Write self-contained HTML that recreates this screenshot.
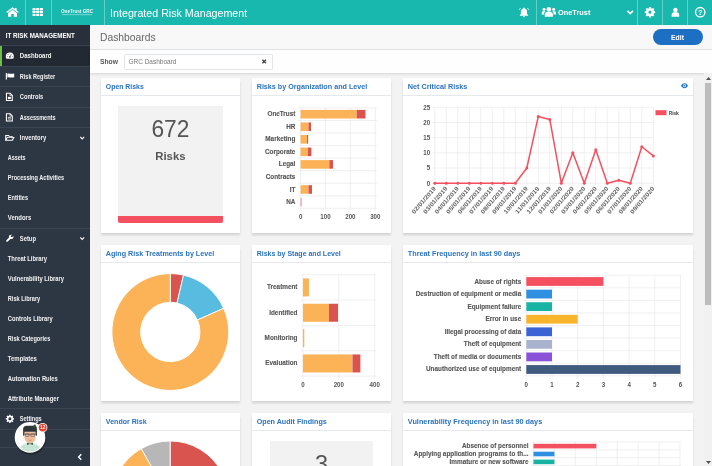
<!DOCTYPE html>
<html lang="en"><head><meta charset="utf-8"><title>Integrated Risk Management</title>
<style>
html,body{margin:0;padding:0;}
body{width:712px;height:466px;overflow:hidden;position:relative;background:#f3f3f3;font-family:"Liberation Sans", sans-serif;color:#444;}
.abs{position:absolute;}
#top{left:0;top:0;width:712px;height:24.6px;background:#19b8af;}
.vsep{position:absolute;top:0;width:0.9px;height:24.6px;background:rgba(255,255,255,0.32);}
#side{left:0;top:24.6px;width:89.6px;height:442px;background:#2d3643;}
.hl{position:absolute;left:0;width:89.6px;height:0.7px;background:#3a4351;}
#hdr{left:89.6px;top:24.6px;width:622.4px;height:24.10px;background:#f8f8f8;border-bottom:0.7px solid #dfe2e5;}
.card{position:absolute;background:#fff;box-shadow:0 3.8px 2.2px -0.4px rgba(0,0,0,0.12), 0 0 1px rgba(0,0,0,0.05);}
#showrow{left:89.6px;top:49.5px;width:622.4px;height:23.3px;background:#fefefe;box-shadow:0 1px 2.5px rgba(0,0,0,0.13);}
.card i{position:absolute;left:0;right:0;top:17.0px;height:0.7px;background:#e6e9ec;}
svg text{font-family:"Liberation Sans", sans-serif;}
</style></head><body>

<div id="top" class="abs">
<div class="vsep" style="left:25.4px"></div>
<div class="vsep" style="left:50.8px"></div>
<div class="vsep" style="left:104.4px"></div>
<div class="vsep" style="left:536.1px"></div>
<div class="vsep" style="left:637.4px"></div>
<div class="vsep" style="left:662.4px"></div>
<div class="vsep" style="left:687.4px"></div>
</div>
<div id="side" class="abs">
<div class="abs" style="left:0;top:0;width:89.6px;height:21px;background:#29303c"></div>
<div class="abs" style="left:0;top:20.60px;width:89.6px;height:21.00px;background:#222933"></div>
<div class="abs" style="left:0;top:21.10px;width:2px;height:20.50px;background:#6cc04a"></div>
<div class="hl" style="top:20.60px"></div>
<div class="hl" style="top:41.10px"></div>
<div class="hl" style="top:61.60px"></div>
<div class="hl" style="top:82.10px"></div>
<div class="hl" style="top:102.60px"></div>
<div class="hl" style="top:203.10px"></div>
<div class="hl" style="top:383.60px"></div>
<div class="hl" style="top:404.10px"></div>
<div class="hl" style="top:422.70px"></div>
</div>
<div id="showrow" class="abs"></div>
<div id="hdr" class="abs"></div>
<div class="abs" style="left:652.5px;top:29.3px;width:50px;height:16px;border-radius:8px;background:#1d6fc4"></div>
<div class="abs" style="left:123.6px;top:53.8px;width:149.4px;height:15.8px;background:#fff;border:0.7px solid #e2e4e6;border-radius:1.5px;box-sizing:border-box"></div>
<div class="card" style="left:100.6px;top:77.7px;width:139.3px;height:155.8px"><i></i></div>
<div class="card" style="left:251.5px;top:77.7px;width:139.8px;height:155.8px"><i></i></div>
<div class="card" style="left:402.6px;top:77.7px;width:290.6px;height:155.8px"><i></i></div>
<div class="card" style="left:100.6px;top:245.1px;width:139.3px;height:155.8px"><i></i></div>
<div class="card" style="left:251.5px;top:245.1px;width:139.8px;height:155.8px"><i></i></div>
<div class="card" style="left:402.6px;top:245.1px;width:290.6px;height:155.8px"><i></i></div>
<div class="card" style="left:100.6px;top:412.5px;width:139.3px;height:155.8px"><i></i></div>
<div class="card" style="left:251.5px;top:412.5px;width:139.8px;height:155.8px"><i></i></div>
<div class="card" style="left:402.6px;top:412.5px;width:290.6px;height:155.8px"><i></i></div>
<div class="abs" style="left:118.2px;top:105.7px;width:104.5px;height:117.5px;background:#f2f2f2;border-radius:0 0 2px 2px;overflow:hidden"><div style="position:absolute;left:0;right:0;bottom:0;height:7.4px;background:#f4505f"></div></div>
<div class="abs" style="left:269.8px;top:440.5px;width:103.6px;height:40px;background:#f2f2f2"></div>
<svg class="abs" style="left:0;top:0" width="712" height="466" viewBox="0 0 712 466">
<g transform="translate(5.900,6.600) scale(0.510,0.430)"><path d="M13 1.500 L0.500 12.300 L2.400 14.500 L13 5.400 L23.600 14.500 L25.500 12.300 L21 8.400 V3 H17.800 V5.700 Z" fill="#fff"/><path d="M13 7.400 L4.200 15 V23.500 H10.600 V17 H15.400 V23.500 H21.800 V15 Z" fill="#fff"/></g>
<rect x="32.50" y="8.00" width="3.100" height="2.200" rx="0.300" fill="#fff"/>
<rect x="36.20" y="8.00" width="3.100" height="2.200" rx="0.300" fill="#fff"/>
<rect x="39.90" y="8.00" width="3.100" height="2.200" rx="0.300" fill="#fff"/>
<rect x="32.50" y="10.85" width="3.100" height="2.200" rx="0.300" fill="#fff"/>
<rect x="36.20" y="10.85" width="3.100" height="2.200" rx="0.300" fill="#fff"/>
<rect x="39.90" y="10.85" width="3.100" height="2.200" rx="0.300" fill="#fff"/>
<rect x="32.50" y="13.70" width="3.100" height="2.200" rx="0.300" fill="#fff"/>
<rect x="36.20" y="13.70" width="3.100" height="2.200" rx="0.300" fill="#fff"/>
<rect x="39.90" y="13.70" width="3.100" height="2.200" rx="0.300" fill="#fff"/>
<rect x="62" y="14.400" width="30" height="0.700" fill="rgba(255,255,255,0.6)"/>
<g transform="translate(518.700,6.900) scale(0.440)"><path d="M12 1.500c-1 0-1.700.7-1.700 1.700v.6C7 4.700 5 7.500 5 11v5l-2.500 3v1h19v-1L19 16v-5c0-3.500-2-6.300-5.300-7.200v-.6c0-1-.7-1.700-1.700-1.700zM9.500 21a2.500 2.500 0 0 0 5 0z" fill="#fff"/><path d="M4 2.500 L1.500 6.500 M20 2.500 L22.500 6.500" stroke="#fff" stroke-width="1.800"/></g>
<g transform="translate(541.700,6.300) scale(0.510,0.480)"><circle cx="14" cy="6" r="4.600" fill="#fff"/><path d="M6 22v-5c0-3.500 3-6 8-6s8 2.500 8 6v5z" fill="#fff"/><circle cx="4.500" cy="6.500" r="3" fill="#fff"/><path d="M0 17v-3.500c0-2 1.600-3.500 4.500-3.500 1 0 1.800.2 2.500.5-1.500 1.400-2.300 3-2.300 5V17z" fill="#fff"/><circle cx="23.500" cy="6.500" r="3" fill="#fff"/><path d="M28 17v-3.500c0-2-1.600-3.500-4.500-3.500-1 0-1.800.2-2.500.5 1.500 1.400 2.300 3 2.300 5V17z" fill="#fff"/></g>
<path d="M627.400 10.900 L630.200 13.500 L633 10.900" fill="none" stroke="#fff" stroke-width="1.700"/>
<path d="M655.22 11.29 L655.22 13.11 L653.99 13.16 L653.50 14.34 L654.34 15.25 L653.05 16.54 L652.14 15.70 L650.96 16.19 L650.91 17.42 L649.09 17.42 L649.04 16.19 L647.86 15.70 L646.95 16.54 L645.66 15.25 L646.50 14.34 L646.01 13.16 L644.78 13.11 L644.78 11.29 L646.01 11.24 L646.50 10.06 L645.66 9.15 L646.95 7.86 L647.86 8.70 L649.04 8.21 L649.09 6.98 L650.91 6.98 L650.96 8.21 L652.14 8.70 L653.05 7.86 L654.34 9.15 L653.50 10.06 L653.99 11.24 Z M651.59 12.20 A1.59 1.59 0 1 0 648.41 12.20 A1.59 1.59 0 1 0 651.59 12.20 Z" fill="#fff" fill-rule="evenodd"/>
<g transform="translate(671.200,7.500) scale(0.420)"><circle cx="10" cy="6" r="5.300" fill="#fff"/><path d="M1 22v-4.500c0-4 3.500-6.500 9-6.500s9 2.500 9 6.500V22z" fill="#fff"/></g>
<circle cx="700.200" cy="12.200" r="4.700" fill="none" stroke="#fff" stroke-width="1.400"/>
<g transform="translate(5.500,51.55) scale(0.540,0.520)"><path d="M8 2a7.500 7.500 0 0 0-7.500 7.500c0 1.600.5 3 1.300 4.300h12.400c.8-1.300 1.300-2.700 1.300-4.300A7.500 7.500 0 0 0 8 2z" fill="#fff"/><circle cx="8" cy="10.500" r="1.500" fill="#222933"/><path d="M8 10.500 L10.800 5.500" stroke="#222933" stroke-width="1.200"/><circle cx="3.300" cy="9.800" r="0.900" fill="#222933"/><circle cx="12.700" cy="9.800" r="0.900" fill="#222933"/><circle cx="4.800" cy="5.800" r="0.900" fill="#222933"/></g>
<g transform="translate(5.500,72.35) scale(0.580,0.480)"><rect x="0.500" y="1.500" width="2" height="13.500" fill="#fff"/><path d="M3.200 2.800c3.500-1.600 6 1.600 11.800-.3v7.800c-5.800 1.900-8.300-1.300-11.800.3z" fill="#fff"/></g>
<g transform="translate(5.100,92.45) scale(0.540,0.550)"><path d="M2.500 1.400h6.800l4 4V14.600h-10.800z" fill="none" stroke="#fff" stroke-width="2"/><path d="M9 1.400v4.300h4.300" fill="none" stroke="#fff" stroke-width="1.200"/><rect x="5.200" y="8" width="5.400" height="4" fill="#fff"/></g>
<g transform="translate(5.100,112.95) scale(0.540,0.550)"><path d="M2.500 1.400h6.800l4 4V14.600h-10.800z" fill="none" stroke="#fff" stroke-width="2"/><path d="M9 1.400v4.300h4.300" fill="none" stroke="#fff" stroke-width="1.200"/><rect x="5.200" y="7.200" width="5.400" height="1.500" fill="#fff"/><rect x="5.200" y="10.200" width="5.400" height="1.500" fill="#fff"/></g>
<g transform="translate(5.000,134.15) scale(0.570,0.460)"><path d="M1.300 13V2.800h4.700l1.500 2h5V7" fill="none" stroke="#fff" stroke-width="1.900"/><path d="M1.300 13.200l2.700-6.200h11.500l-2.700 6.200z" fill="none" stroke="#fff" stroke-width="1.900"/></g>
<path d="M80.200 136.85 L82.200 138.85 L84.200 136.85" fill="none" stroke="#fff" stroke-width="1.100"/>
<g transform="translate(5.700,234.25) scale(0.520,0.500)"><path d="M14.800 3.600l-2.500 2.500-2.100-.4-.4-2.100 2.500-2.500c-1.800-.6-3.700-.2-4.900 1-1.200 1.200-1.500 3-.9 4.600L1.300 11.900c-.7.700-.7 1.900 0 2.600.7.700 1.900.7 2.600 0l5.200-5.200c1.600.6 3.400.3 4.600-.9 1.300-1.200 1.700-3.100 1.100-4.800z" fill="#fff"/></g>
<path d="M80.200 237.35 L82.200 239.35 L84.200 237.35" fill="none" stroke="#fff" stroke-width="1.100"/>
<path d="M14.04 418.13 L14.04 419.57 L13.01 419.60 L12.63 420.52 L13.34 421.27 L12.32 422.29 L11.57 421.58 L10.65 421.96 L10.62 422.99 L9.18 422.99 L9.15 421.96 L8.23 421.58 L7.48 422.29 L6.46 421.27 L7.17 420.52 L6.79 419.60 L5.76 419.57 L5.76 418.13 L6.79 418.10 L7.17 417.18 L6.46 416.43 L7.48 415.41 L8.23 416.12 L9.15 415.74 L9.18 414.71 L10.62 414.71 L10.65 415.74 L11.57 416.12 L12.32 415.41 L13.34 416.43 L12.63 417.18 L13.01 418.10 Z M11.41 418.85 A1.51 1.51 0 1 0 8.39 418.85 A1.51 1.51 0 1 0 11.41 418.85 Z" fill="#fff" fill-rule="evenodd"/>
<path d="M81.300 454.200 L78.600 457 L81.300 459.800" fill="none" stroke="#fff" stroke-width="1.400"/>
<path d="M262.400 59.700 L266 63.300 M266 59.700 L262.400 63.300" stroke="#444" stroke-width="1.300"/>
<g transform="translate(680.800,83) scale(0.460)"><path d="M0.500 6c2-3.500 4.500-5.300 7.500-5.300s5.500 1.800 7.500 5.300c-2 3.500-4.500 5.300-7.500 5.300S2.500 9.500.5 6z" fill="#1d6fc4"/><circle cx="8" cy="6" r="3.200" fill="#fff"/><circle cx="8" cy="6" r="1.800" fill="#1d6fc4"/></g>
<line x1="300.60" y1="107.90" x2="300.60" y2="210.80" stroke="#e9e9e9" stroke-width="0.700"/>
<line x1="325.50" y1="107.90" x2="325.50" y2="210.80" stroke="#e9e9e9" stroke-width="0.700"/>
<line x1="350.40" y1="107.90" x2="350.40" y2="210.80" stroke="#e9e9e9" stroke-width="0.700"/>
<line x1="375.30" y1="107.90" x2="375.30" y2="210.80" stroke="#e9e9e9" stroke-width="0.700"/>
<line x1="298.10" y1="107.92" x2="377.00" y2="107.92" stroke="#e9e9e9" stroke-width="0.700"/>
<line x1="298.10" y1="120.47" x2="377.00" y2="120.47" stroke="#e9e9e9" stroke-width="0.700"/>
<line x1="298.10" y1="133.03" x2="377.00" y2="133.03" stroke="#e9e9e9" stroke-width="0.700"/>
<line x1="298.10" y1="145.57" x2="377.00" y2="145.57" stroke="#e9e9e9" stroke-width="0.700"/>
<line x1="298.10" y1="158.12" x2="377.00" y2="158.12" stroke="#e9e9e9" stroke-width="0.700"/>
<line x1="298.10" y1="170.68" x2="377.00" y2="170.68" stroke="#e9e9e9" stroke-width="0.700"/>
<line x1="298.10" y1="183.23" x2="377.00" y2="183.23" stroke="#e9e9e9" stroke-width="0.700"/>
<line x1="298.10" y1="195.78" x2="377.00" y2="195.78" stroke="#e9e9e9" stroke-width="0.700"/>
<line x1="298.10" y1="208.32" x2="377.00" y2="208.32" stroke="#e9e9e9" stroke-width="0.700"/>
<rect x="300.60" y="109.90" width="56.10" height="8.60" fill="#fcb256"/>
<rect x="356.70" y="109.90" width="8.80" height="8.60" fill="#d9544f"/>
<rect x="300.60" y="122.45" width="7.90" height="8.60" fill="#fcb256"/>
<rect x="308.50" y="122.45" width="2.50" height="8.60" fill="#d9544f"/>
<rect x="300.60" y="135.00" width="6.40" height="8.60" fill="#fcb256"/>
<rect x="307.00" y="135.00" width="1.10" height="8.60" fill="#d9544f"/>
<rect x="300.60" y="147.55" width="7.40" height="8.60" fill="#fcb256"/>
<rect x="308.00" y="147.55" width="3.40" height="8.60" fill="#d9544f"/>
<rect x="300.60" y="160.10" width="28.70" height="8.60" fill="#fcb256"/>
<rect x="329.30" y="160.10" width="3.70" height="8.60" fill="#d9544f"/>
<rect x="300.60" y="185.20" width="7.90" height="8.60" fill="#fcb256"/>
<rect x="308.50" y="185.20" width="3.50" height="8.60" fill="#d9544f"/>
<rect x="300.60" y="197.75" width="1.00" height="8.60" fill="#e98a86"/>
<line x1="302.90" y1="274.70" x2="302.90" y2="378.60" stroke="#e9e9e9" stroke-width="0.700"/>
<line x1="338.80" y1="274.70" x2="338.80" y2="378.60" stroke="#e9e9e9" stroke-width="0.700"/>
<line x1="374.70" y1="274.70" x2="374.70" y2="378.60" stroke="#e9e9e9" stroke-width="0.700"/>
<line x1="300.40" y1="274.72" x2="376.00" y2="274.72" stroke="#e9e9e9" stroke-width="0.700"/>
<line x1="300.40" y1="300.07" x2="376.00" y2="300.07" stroke="#e9e9e9" stroke-width="0.700"/>
<line x1="300.40" y1="325.42" x2="376.00" y2="325.42" stroke="#e9e9e9" stroke-width="0.700"/>
<line x1="300.40" y1="350.77" x2="376.00" y2="350.77" stroke="#e9e9e9" stroke-width="0.700"/>
<line x1="300.40" y1="376.12" x2="376.00" y2="376.12" stroke="#e9e9e9" stroke-width="0.700"/>
<rect x="302.90" y="278.40" width="6.10" height="18.00" fill="#fcb256"/>
<rect x="302.90" y="303.75" width="26.10" height="18.00" fill="#fcb256"/>
<rect x="329.00" y="303.75" width="9.00" height="18.00" fill="#d9544f"/>
<rect x="302.90" y="329.10" width="1.40" height="18.00" fill="#fcb256"/>
<rect x="302.90" y="354.45" width="49.60" height="18.00" fill="#fcb256"/>
<rect x="352.50" y="354.45" width="7.90" height="18.00" fill="#d9544f"/>
<line x1="526.30" y1="275.20" x2="526.30" y2="378.30" stroke="#e9e9e9" stroke-width="0.700"/>
<line x1="552.00" y1="275.20" x2="552.00" y2="378.30" stroke="#e9e9e9" stroke-width="0.700"/>
<line x1="577.70" y1="275.20" x2="577.70" y2="378.30" stroke="#e9e9e9" stroke-width="0.700"/>
<line x1="603.40" y1="275.20" x2="603.40" y2="378.30" stroke="#e9e9e9" stroke-width="0.700"/>
<line x1="629.10" y1="275.20" x2="629.10" y2="378.30" stroke="#e9e9e9" stroke-width="0.700"/>
<line x1="654.80" y1="275.20" x2="654.80" y2="378.30" stroke="#e9e9e9" stroke-width="0.700"/>
<line x1="680.50" y1="275.20" x2="680.50" y2="378.30" stroke="#e9e9e9" stroke-width="0.700"/>
<line x1="523.80" y1="275.21" x2="681.00" y2="275.21" stroke="#e9e9e9" stroke-width="0.700"/>
<line x1="523.80" y1="287.78" x2="681.00" y2="287.78" stroke="#e9e9e9" stroke-width="0.700"/>
<line x1="523.80" y1="300.35" x2="681.00" y2="300.35" stroke="#e9e9e9" stroke-width="0.700"/>
<line x1="523.80" y1="312.92" x2="681.00" y2="312.92" stroke="#e9e9e9" stroke-width="0.700"/>
<line x1="523.80" y1="325.50" x2="681.00" y2="325.50" stroke="#e9e9e9" stroke-width="0.700"/>
<line x1="523.80" y1="338.06" x2="681.00" y2="338.06" stroke="#e9e9e9" stroke-width="0.700"/>
<line x1="523.80" y1="350.63" x2="681.00" y2="350.63" stroke="#e9e9e9" stroke-width="0.700"/>
<line x1="523.80" y1="363.20" x2="681.00" y2="363.20" stroke="#e9e9e9" stroke-width="0.700"/>
<line x1="523.80" y1="375.77" x2="681.00" y2="375.77" stroke="#e9e9e9" stroke-width="0.700"/>
<rect x="526.30" y="277.10" width="77.10" height="8.80" fill="#f4505f"/>
<rect x="526.30" y="289.67" width="25.70" height="8.80" fill="#2f8fe0"/>
<rect x="526.30" y="302.24" width="25.70" height="8.80" fill="#17b3a3"/>
<rect x="526.30" y="314.81" width="51.40" height="8.80" fill="#f8b42a"/>
<rect x="526.30" y="327.38" width="25.70" height="8.80" fill="#3b63d6"/>
<rect x="526.30" y="339.95" width="25.70" height="8.80" fill="#a9b2cf"/>
<rect x="526.30" y="352.52" width="25.70" height="8.80" fill="#8a52d8"/>
<rect x="526.30" y="365.09" width="154.20" height="8.80" fill="#3f5b80"/>
<line x1="533.50" y1="442" x2="533.50" y2="466" stroke="#e9e9e9" stroke-width="0.700"/>
<line x1="554.43" y1="442" x2="554.43" y2="466" stroke="#e9e9e9" stroke-width="0.700"/>
<line x1="575.36" y1="442" x2="575.36" y2="466" stroke="#e9e9e9" stroke-width="0.700"/>
<line x1="596.29" y1="442" x2="596.29" y2="466" stroke="#e9e9e9" stroke-width="0.700"/>
<line x1="617.22" y1="442" x2="617.22" y2="466" stroke="#e9e9e9" stroke-width="0.700"/>
<line x1="638.15" y1="442" x2="638.15" y2="466" stroke="#e9e9e9" stroke-width="0.700"/>
<line x1="659.08" y1="442" x2="659.08" y2="466" stroke="#e9e9e9" stroke-width="0.700"/>
<line x1="680.01" y1="442" x2="680.01" y2="466" stroke="#e9e9e9" stroke-width="0.700"/>
<line x1="531" y1="442.00" x2="681" y2="442.00" stroke="#e9e9e9" stroke-width="0.700"/>
<line x1="531" y1="449.85" x2="681" y2="449.85" stroke="#e9e9e9" stroke-width="0.700"/>
<line x1="531" y1="457.70" x2="681" y2="457.70" stroke="#e9e9e9" stroke-width="0.700"/>
<line x1="531" y1="465.55" x2="681" y2="465.55" stroke="#e9e9e9" stroke-width="0.700"/>
<rect x="533.500" y="443.80" width="62.79" height="4.600" fill="#f4505f"/>
<rect x="533.500" y="451.70" width="20.93" height="4.600" fill="#2f8fe0"/>
<rect x="533.500" y="459.60" width="20.93" height="4.600" fill="#17b3a3"/>
<line x1="432.30" y1="183.20" x2="653.30" y2="183.20" stroke="#e9e9e9" stroke-width="0.700"/>
<line x1="432.30" y1="168.02" x2="653.30" y2="168.02" stroke="#e9e9e9" stroke-width="0.700"/>
<line x1="432.30" y1="152.84" x2="653.30" y2="152.84" stroke="#e9e9e9" stroke-width="0.700"/>
<line x1="432.30" y1="137.66" x2="653.30" y2="137.66" stroke="#e9e9e9" stroke-width="0.700"/>
<line x1="432.30" y1="122.48" x2="653.30" y2="122.48" stroke="#e9e9e9" stroke-width="0.700"/>
<line x1="432.30" y1="107.30" x2="653.30" y2="107.30" stroke="#e9e9e9" stroke-width="0.700"/>
<line x1="434.80" y1="107.30" x2="434.80" y2="185.70" stroke="#e9e9e9" stroke-width="0.700"/>
<line x1="446.30" y1="107.30" x2="446.30" y2="185.70" stroke="#e9e9e9" stroke-width="0.700"/>
<line x1="457.80" y1="107.30" x2="457.80" y2="185.70" stroke="#e9e9e9" stroke-width="0.700"/>
<line x1="469.30" y1="107.30" x2="469.30" y2="185.70" stroke="#e9e9e9" stroke-width="0.700"/>
<line x1="480.80" y1="107.30" x2="480.80" y2="185.70" stroke="#e9e9e9" stroke-width="0.700"/>
<line x1="492.30" y1="107.30" x2="492.30" y2="185.70" stroke="#e9e9e9" stroke-width="0.700"/>
<line x1="503.80" y1="107.30" x2="503.80" y2="185.70" stroke="#e9e9e9" stroke-width="0.700"/>
<line x1="515.30" y1="107.30" x2="515.30" y2="185.70" stroke="#e9e9e9" stroke-width="0.700"/>
<line x1="526.80" y1="107.30" x2="526.80" y2="185.70" stroke="#e9e9e9" stroke-width="0.700"/>
<line x1="538.30" y1="107.30" x2="538.30" y2="185.70" stroke="#e9e9e9" stroke-width="0.700"/>
<line x1="549.80" y1="107.30" x2="549.80" y2="185.70" stroke="#e9e9e9" stroke-width="0.700"/>
<line x1="561.30" y1="107.30" x2="561.30" y2="185.70" stroke="#e9e9e9" stroke-width="0.700"/>
<line x1="572.80" y1="107.30" x2="572.80" y2="185.70" stroke="#e9e9e9" stroke-width="0.700"/>
<line x1="584.30" y1="107.30" x2="584.30" y2="185.70" stroke="#e9e9e9" stroke-width="0.700"/>
<line x1="595.80" y1="107.30" x2="595.80" y2="185.70" stroke="#e9e9e9" stroke-width="0.700"/>
<line x1="607.30" y1="107.30" x2="607.30" y2="185.70" stroke="#e9e9e9" stroke-width="0.700"/>
<line x1="618.80" y1="107.30" x2="618.80" y2="185.70" stroke="#e9e9e9" stroke-width="0.700"/>
<line x1="630.30" y1="107.30" x2="630.30" y2="185.70" stroke="#e9e9e9" stroke-width="0.700"/>
<line x1="641.80" y1="107.30" x2="641.80" y2="185.70" stroke="#e9e9e9" stroke-width="0.700"/>
<line x1="653.30" y1="107.30" x2="653.30" y2="185.70" stroke="#e9e9e9" stroke-width="0.700"/>
<polyline points="434.80,183.20 446.30,183.20 457.80,183.20 469.30,183.20 480.80,183.20 492.30,183.20 503.80,183.20 515.30,183.20 526.80,168.02 538.30,116.41 549.80,119.44 561.30,183.20 572.80,152.84 584.30,183.20 595.80,149.80 607.30,183.20 618.80,180.16 630.30,183.20 641.80,146.77 653.30,155.88" fill="none" stroke="#f4505f" stroke-width="1.500" stroke-linejoin="round"/>
<circle cx="434.80" cy="183.20" r="1.500" fill="#f4505f"/>
<circle cx="446.30" cy="183.20" r="1.500" fill="#f4505f"/>
<circle cx="457.80" cy="183.20" r="1.500" fill="#f4505f"/>
<circle cx="469.30" cy="183.20" r="1.500" fill="#f4505f"/>
<circle cx="480.80" cy="183.20" r="1.500" fill="#f4505f"/>
<circle cx="492.30" cy="183.20" r="1.500" fill="#f4505f"/>
<circle cx="503.80" cy="183.20" r="1.500" fill="#f4505f"/>
<circle cx="515.30" cy="183.20" r="1.500" fill="#f4505f"/>
<circle cx="526.80" cy="168.02" r="1.500" fill="#f4505f"/>
<circle cx="538.30" cy="116.41" r="1.500" fill="#f4505f"/>
<circle cx="549.80" cy="119.44" r="1.500" fill="#f4505f"/>
<circle cx="561.30" cy="183.20" r="1.500" fill="#f4505f"/>
<circle cx="572.80" cy="152.84" r="1.500" fill="#f4505f"/>
<circle cx="584.30" cy="183.20" r="1.500" fill="#f4505f"/>
<circle cx="595.80" cy="149.80" r="1.500" fill="#f4505f"/>
<circle cx="607.30" cy="183.20" r="1.500" fill="#f4505f"/>
<circle cx="618.80" cy="180.16" r="1.500" fill="#f4505f"/>
<circle cx="630.30" cy="183.20" r="1.500" fill="#f4505f"/>
<circle cx="641.80" cy="146.77" r="1.500" fill="#f4505f"/>
<circle cx="653.30" cy="155.88" r="1.500" fill="#f4505f"/>
<rect x="655.500" y="110.200" width="11" height="5" fill="#f4505f"/>
<path d="M170.30 273.60 A58.4 58.4 0 0 1 183.54 275.12 L177.03 303.07 A29.7 29.7 0 0 0 170.30 302.30 Z" fill="#d9544f" stroke="#fff" stroke-width="0.900"/>
<path d="M183.54 275.12 A58.4 58.4 0 0 1 223.69 308.34 L197.45 319.97 A29.7 29.7 0 0 0 177.03 303.07 Z" fill="#58bbe0" stroke="#fff" stroke-width="0.900"/>
<path d="M223.69 308.34 A58.4 58.4 0 1 1 170.30 273.60 L170.30 302.30 A29.7 29.7 0 1 0 197.45 319.97 Z" fill="#fcb256" stroke="#fff" stroke-width="0.900"/>
<path d="M170.1 499.3 L170.10 441.00 A58.3 58.3 0 0 1 217.86 532.74 Z" fill="#d9544f" stroke="#fff" stroke-width="0.900"/>
<path d="M170.1 499.3 L141.13 448.71 A58.3 58.3 0 0 1 170.10 441.00 Z" fill="#b7b7b7" stroke="#fff" stroke-width="0.900"/>
<path d="M170.1 499.3 L150.16 554.08 A58.3 58.3 0 0 1 141.13 448.71 Z" fill="#fcb256" stroke="#fff" stroke-width="0.900"/>
<g transform="translate(30,437.400)">
<circle cx="0.300" cy="1.200" r="16" fill="rgba(0,0,0,0.28)"/>
<circle cx="0" cy="0" r="15.300" fill="#fff"/>
<clipPath id="avc"><circle cx="0" cy="0" r="14.200"/></clipPath>
<g clip-path="url(#avc)">
<path d="M-10.500 15 C-10.500 8.500 -6 6 -2.500 5.400 L2.500 5.400 C6 6 10.500 8.500 10.500 15 Z" fill="#cfe9dc"/>
<path d="M-6 8 V15 M-2 6 V15 M2 6 V15 M6 8 V15 M-10 9.500 H10 M-10 12.500 H10" stroke="#b4d8c6" stroke-width="0.500" fill="none"/>
<rect x="-2.200" y="2.500" width="4.400" height="4" fill="#dfa583"/>
<path d="M-3 5 L0 6.600 L3 5 L3 7.600 L0 6.600 L-3 7.600 Z" fill="#2f6b4a"/>
<path d="M-5.600 -6 H5.600 V0 C5.600 3.500 3 5.600 0 5.600 C-3 5.600 -5.600 3.500 -5.600 0 Z" fill="#eebd9b"/>
<path d="M-6.900 -1.400 V-8.500 C-6.900 -10.800 -5 -11.600 -3 -11.600 H4.500 C6.300 -11.600 6.900 -10.500 6.900 -8.500 V-1.400 L5.500 -2.500 V-5.600 H-5.500 V-2.500 Z" fill="#2e3534"/>
<path d="M3.400 -11.600 C4 -12.800 5 -13 5.800 -12.600 C5.600 -11.500 5.600 -10.500 5.800 -9 L3.400 -9 Z" fill="#27503c"/>
<path d="M-5 -3.200 H5" stroke="#3a3a3a" stroke-width="0.600"/>
<rect x="-4.700" y="-3.600" width="3.800" height="2.600" rx="0.600" fill="none" stroke="#444" stroke-width="0.500"/>
<rect x="0.900" y="-3.600" width="3.800" height="2.600" rx="0.600" fill="none" stroke="#444" stroke-width="0.500"/>
<path d="M-1.500 2.600 C-0.500 3.200 0.500 3.200 1.500 2.600" fill="none" stroke="#c26a5a" stroke-width="0.600"/>
</g>
<circle cx="12.700" cy="-9.800" r="4.700" fill="#fff"/>
<circle cx="12.700" cy="-9.800" r="3.900" fill="#e8432e"/>
</g>
<text x="77.00" y="13.00" font-size="5.7" font-weight="bold" fill="rgba(255,255,255,0.92)" text-anchor="middle" textLength="32.00" lengthAdjust="spacingAndGlyphs">OneTrust GRC</text>
<text x="110.10" y="16.90" font-size="11" fill="#fff" textLength="137.10" lengthAdjust="spacingAndGlyphs">Integrated Risk Management</text>
<text x="558.00" y="15.30" font-size="7.9" font-weight="bold" fill="#fff" textLength="32.40" lengthAdjust="spacingAndGlyphs">OneTrust</text>
<text x="700.20" y="14.80" font-size="7.4" font-weight="bold" fill="#fff" text-anchor="middle">?</text>
<text x="19.80" y="58.15" font-size="6.6" font-weight="bold" fill="rgba(255,255,255,0.94)" textLength="31.80" lengthAdjust="spacingAndGlyphs">Dashboard</text>
<text x="19.80" y="78.65" font-size="6.6" font-weight="bold" fill="rgba(255,255,255,0.94)" textLength="35.40" lengthAdjust="spacingAndGlyphs">Risk Register</text>
<text x="19.80" y="99.15" font-size="6.6" font-weight="bold" fill="rgba(255,255,255,0.94)" textLength="23.40" lengthAdjust="spacingAndGlyphs">Controls</text>
<text x="19.80" y="119.65" font-size="6.6" font-weight="bold" fill="rgba(255,255,255,0.94)" textLength="35.70" lengthAdjust="spacingAndGlyphs">Assessments</text>
<text x="19.80" y="140.15" font-size="6.6" font-weight="bold" fill="rgba(255,255,255,0.94)" textLength="26.40" lengthAdjust="spacingAndGlyphs">Inventory</text>
<text x="7.80" y="160.00" font-size="6.6" font-weight="bold" fill="rgba(255,255,255,0.94)" textLength="17.80" lengthAdjust="spacingAndGlyphs">Assets</text>
<text x="7.80" y="180.00" font-size="6.6" font-weight="bold" fill="rgba(255,255,255,0.94)" textLength="56.30" lengthAdjust="spacingAndGlyphs">Processing Activities</text>
<text x="7.80" y="200.00" font-size="6.6" font-weight="bold" fill="rgba(255,255,255,0.94)" textLength="20.30" lengthAdjust="spacingAndGlyphs">Entities</text>
<text x="7.80" y="220.00" font-size="6.6" font-weight="bold" fill="rgba(255,255,255,0.94)" textLength="23.40" lengthAdjust="spacingAndGlyphs">Vendors</text>
<text x="19.80" y="240.65" font-size="6.6" font-weight="bold" fill="rgba(255,255,255,0.94)" textLength="16.20" lengthAdjust="spacingAndGlyphs">Setup</text>
<text x="7.80" y="260.50" font-size="6.6" font-weight="bold" fill="rgba(255,255,255,0.94)" textLength="39.20" lengthAdjust="spacingAndGlyphs">Threat Library</text>
<text x="7.80" y="280.50" font-size="6.6" font-weight="bold" fill="rgba(255,255,255,0.94)" textLength="56.30" lengthAdjust="spacingAndGlyphs">Vulnerability Library</text>
<text x="7.80" y="300.50" font-size="6.6" font-weight="bold" fill="rgba(255,255,255,0.94)" textLength="32.40" lengthAdjust="spacingAndGlyphs">Risk Library</text>
<text x="7.80" y="320.50" font-size="6.6" font-weight="bold" fill="rgba(255,255,255,0.94)" textLength="45.00" lengthAdjust="spacingAndGlyphs">Controls Library</text>
<text x="7.80" y="340.50" font-size="6.6" font-weight="bold" fill="rgba(255,255,255,0.94)" textLength="42.50" lengthAdjust="spacingAndGlyphs">Risk Categories</text>
<text x="7.80" y="360.50" font-size="6.6" font-weight="bold" fill="rgba(255,255,255,0.94)" textLength="29.10" lengthAdjust="spacingAndGlyphs">Templates</text>
<text x="7.80" y="380.50" font-size="6.6" font-weight="bold" fill="rgba(255,255,255,0.94)" textLength="50.00" lengthAdjust="spacingAndGlyphs">Automation Rules</text>
<text x="7.80" y="400.50" font-size="6.6" font-weight="bold" fill="rgba(255,255,255,0.94)" textLength="51.20" lengthAdjust="spacingAndGlyphs">Attribute Manager</text>
<text x="19.80" y="421.15" font-size="6.6" font-weight="bold" fill="rgba(255,255,255,0.94)" textLength="21.90" lengthAdjust="spacingAndGlyphs">Settings</text>
<text x="5.80" y="37.70" font-size="6.65" font-weight="bold" fill="#fff" textLength="69.10" lengthAdjust="spacingAndGlyphs">IT RISK MANAGEMENT</text>
<text x="100.00" y="41.10" font-size="11" fill="#666" textLength="55.70" lengthAdjust="spacingAndGlyphs">Dashboards</text>
<text x="677.50" y="39.90" font-size="7.2" font-weight="bold" fill="#fff" text-anchor="middle" textLength="12.92" lengthAdjust="spacingAndGlyphs">Edit</text>
<text x="100.00" y="64.20" font-size="7.2" font-weight="bold" fill="#555" textLength="17.86" lengthAdjust="spacingAndGlyphs">Show</text>
<text x="128.40" y="64.00" font-size="6.5" fill="#777" textLength="48.05" lengthAdjust="spacingAndGlyphs">GRC Dashboard</text>
<text x="105.80" y="88.90" font-size="7.8" font-weight="bold" fill="#2a73c2" textLength="38.00" lengthAdjust="spacingAndGlyphs">Open Risks</text>
<text x="256.70" y="88.90" font-size="7.8" font-weight="bold" fill="#2a73c2" textLength="110.60" lengthAdjust="spacingAndGlyphs">Risks by Organization and Level</text>
<text x="407.80" y="88.90" font-size="7.8" font-weight="bold" fill="#2a73c2" textLength="59.60" lengthAdjust="spacingAndGlyphs">Net Critical Risks</text>
<text x="105.80" y="256.30" font-size="7.8" font-weight="bold" fill="#2a73c2" textLength="108.40" lengthAdjust="spacingAndGlyphs">Aging Risk Treatments by Level</text>
<text x="256.70" y="256.30" font-size="7.8" font-weight="bold" fill="#2a73c2" textLength="84.10" lengthAdjust="spacingAndGlyphs">Risks by Stage and Level</text>
<text x="407.80" y="256.30" font-size="7.8" font-weight="bold" fill="#2a73c2" textLength="112.60" lengthAdjust="spacingAndGlyphs">Threat Frequency in last 90 days</text>
<text x="105.80" y="423.70" font-size="7.8" font-weight="bold" fill="#2a73c2" textLength="40.90" lengthAdjust="spacingAndGlyphs">Vendor Risk</text>
<text x="256.70" y="423.70" font-size="7.8" font-weight="bold" fill="#2a73c2" textLength="70.10" lengthAdjust="spacingAndGlyphs">Open Audit Findings</text>
<text x="407.80" y="423.70" font-size="7.8" font-weight="bold" fill="#2a73c2" textLength="134.40" lengthAdjust="spacingAndGlyphs">Vulnerability Frequency in last 90 days</text>
<text x="170.40" y="137.20" font-size="23.5" fill="#555" text-anchor="middle" textLength="38.03" lengthAdjust="spacingAndGlyphs">672</text>
<text x="170.40" y="159.80" font-size="11.8" font-weight="bold" fill="#555" text-anchor="middle" textLength="30.23" lengthAdjust="spacingAndGlyphs">Risks</text>
<text x="321.60" y="472.00" font-size="23.5" fill="#555" text-anchor="middle">3</text>
<text x="300.60" y="219.00" font-size="6.5" font-weight="bold" fill="#555" text-anchor="middle" textLength="3.43" lengthAdjust="spacingAndGlyphs">0</text>
<text x="325.50" y="219.00" font-size="6.5" font-weight="bold" fill="#555" text-anchor="middle" textLength="10.30" lengthAdjust="spacingAndGlyphs">100</text>
<text x="350.40" y="219.00" font-size="6.5" font-weight="bold" fill="#555" text-anchor="middle" textLength="10.30" lengthAdjust="spacingAndGlyphs">200</text>
<text x="375.30" y="219.00" font-size="6.5" font-weight="bold" fill="#555" text-anchor="middle" textLength="10.30" lengthAdjust="spacingAndGlyphs">300</text>
<text x="295.40" y="116.20" font-size="6.5" font-weight="bold" fill="#565656" text-anchor="end" textLength="27.96" lengthAdjust="spacingAndGlyphs" stroke="#565656" stroke-width="0.12">OneTrust</text>
<text x="295.40" y="128.75" font-size="6.5" font-weight="bold" fill="#565656" text-anchor="end" textLength="9.20" lengthAdjust="spacingAndGlyphs" stroke="#565656" stroke-width="0.12">HR</text>
<text x="295.40" y="141.30" font-size="6.5" font-weight="bold" fill="#565656" text-anchor="end" textLength="30.09" lengthAdjust="spacingAndGlyphs" stroke="#565656" stroke-width="0.12">Marketing</text>
<text x="295.40" y="153.85" font-size="6.5" font-weight="bold" fill="#565656" text-anchor="end" textLength="30.44" lengthAdjust="spacingAndGlyphs" stroke="#565656" stroke-width="0.12">Corporate</text>
<text x="295.40" y="166.40" font-size="6.5" font-weight="bold" fill="#565656" text-anchor="end" textLength="16.64" lengthAdjust="spacingAndGlyphs" stroke="#565656" stroke-width="0.12">Legal</text>
<text x="295.40" y="178.95" font-size="6.5" font-weight="bold" fill="#565656" text-anchor="end" textLength="29.73" lengthAdjust="spacingAndGlyphs" stroke="#565656" stroke-width="0.12">Contracts</text>
<text x="295.40" y="191.50" font-size="6.5" font-weight="bold" fill="#565656" text-anchor="end" textLength="5.66" lengthAdjust="spacingAndGlyphs" stroke="#565656" stroke-width="0.12">IT</text>
<text x="295.40" y="204.05" font-size="6.5" font-weight="bold" fill="#565656" text-anchor="end" textLength="9.20" lengthAdjust="spacingAndGlyphs" stroke="#565656" stroke-width="0.12">NA</text>
<text x="302.90" y="386.60" font-size="6.5" font-weight="bold" fill="#555" text-anchor="middle" textLength="3.43" lengthAdjust="spacingAndGlyphs">0</text>
<text x="338.80" y="386.60" font-size="6.5" font-weight="bold" fill="#555" text-anchor="middle" textLength="10.30" lengthAdjust="spacingAndGlyphs">200</text>
<text x="374.70" y="386.60" font-size="6.5" font-weight="bold" fill="#555" text-anchor="middle" textLength="10.30" lengthAdjust="spacingAndGlyphs">400</text>
<text x="297.50" y="289.40" font-size="6.5" font-weight="bold" fill="#565656" text-anchor="end" textLength="30.45" lengthAdjust="spacingAndGlyphs" stroke="#565656" stroke-width="0.12">Treatment</text>
<text x="297.50" y="314.75" font-size="6.5" font-weight="bold" fill="#565656" text-anchor="end" textLength="28.31" lengthAdjust="spacingAndGlyphs" stroke="#565656" stroke-width="0.12">Identified</text>
<text x="297.50" y="340.10" font-size="6.5" font-weight="bold" fill="#565656" text-anchor="end" textLength="32.90" lengthAdjust="spacingAndGlyphs" stroke="#565656" stroke-width="0.12">Monitoring</text>
<text x="297.50" y="365.45" font-size="6.5" font-weight="bold" fill="#565656" text-anchor="end" textLength="32.21" lengthAdjust="spacingAndGlyphs" stroke="#565656" stroke-width="0.12">Evaluation</text>
<text x="526.30" y="386.60" font-size="6.5" font-weight="bold" fill="#555" text-anchor="middle" textLength="3.43" lengthAdjust="spacingAndGlyphs">0</text>
<text x="552.00" y="386.60" font-size="6.5" font-weight="bold" fill="#555" text-anchor="middle" textLength="3.43" lengthAdjust="spacingAndGlyphs">1</text>
<text x="577.70" y="386.60" font-size="6.5" font-weight="bold" fill="#555" text-anchor="middle" textLength="3.43" lengthAdjust="spacingAndGlyphs">2</text>
<text x="603.40" y="386.60" font-size="6.5" font-weight="bold" fill="#555" text-anchor="middle" textLength="3.43" lengthAdjust="spacingAndGlyphs">3</text>
<text x="629.10" y="386.60" font-size="6.5" font-weight="bold" fill="#555" text-anchor="middle" textLength="3.43" lengthAdjust="spacingAndGlyphs">4</text>
<text x="654.80" y="386.60" font-size="6.5" font-weight="bold" fill="#555" text-anchor="middle" textLength="3.43" lengthAdjust="spacingAndGlyphs">5</text>
<text x="680.50" y="386.60" font-size="6.5" font-weight="bold" fill="#555" text-anchor="middle" textLength="3.43" lengthAdjust="spacingAndGlyphs">6</text>
<text x="521.20" y="283.50" font-size="6.5" font-weight="bold" fill="#565656" text-anchor="end" textLength="46.72" lengthAdjust="spacingAndGlyphs" stroke="#565656" stroke-width="0.12">Abuse of rights</text>
<text x="521.20" y="296.07" font-size="6.5" font-weight="bold" fill="#565656" text-anchor="end" textLength="105.47" lengthAdjust="spacingAndGlyphs" stroke="#565656" stroke-width="0.12">Destruction of equipment or media</text>
<text x="521.20" y="308.64" font-size="6.5" font-weight="bold" fill="#565656" text-anchor="end" textLength="53.80" lengthAdjust="spacingAndGlyphs" stroke="#565656" stroke-width="0.12">Equipment failure</text>
<text x="521.20" y="321.21" font-size="6.5" font-weight="bold" fill="#565656" text-anchor="end" textLength="35.75" lengthAdjust="spacingAndGlyphs" stroke="#565656" stroke-width="0.12">Error in use</text>
<text x="521.20" y="333.78" font-size="6.5" font-weight="bold" fill="#565656" text-anchor="end" textLength="76.46" lengthAdjust="spacingAndGlyphs" stroke="#565656" stroke-width="0.12">Illegal processing of data</text>
<text x="521.20" y="346.35" font-size="6.5" font-weight="bold" fill="#565656" text-anchor="end" textLength="57.33" lengthAdjust="spacingAndGlyphs" stroke="#565656" stroke-width="0.12">Theft of equipment</text>
<text x="521.20" y="358.92" font-size="6.5" font-weight="bold" fill="#565656" text-anchor="end" textLength="87.42" lengthAdjust="spacingAndGlyphs" stroke="#565656" stroke-width="0.12">Theft of media or documents</text>
<text x="521.20" y="371.49" font-size="6.5" font-weight="bold" fill="#565656" text-anchor="end" textLength="95.20" lengthAdjust="spacingAndGlyphs" stroke="#565656" stroke-width="0.12">Unauthorized use of equipment</text>
<text x="528.50" y="448.40" font-size="6.5" font-weight="bold" fill="#565656" text-anchor="end" textLength="66.55" lengthAdjust="spacingAndGlyphs" stroke="#565656" stroke-width="0.12">Absence of personnel</text>
<text x="528.50" y="456.30" font-size="6.5" font-weight="bold" fill="#565656" text-anchor="end" textLength="114.66" lengthAdjust="spacingAndGlyphs" stroke="#565656" stroke-width="0.12">Applying application programs to th...</text>
<text x="528.50" y="464.20" font-size="6.5" font-weight="bold" fill="#565656" text-anchor="end" textLength="78.94" lengthAdjust="spacingAndGlyphs" stroke="#565656" stroke-width="0.12">Immature or new software</text>
<text x="430.20" y="185.50" font-size="6.5" font-weight="bold" fill="#555" text-anchor="end" textLength="3.43" lengthAdjust="spacingAndGlyphs">0</text>
<text x="430.20" y="170.32" font-size="6.5" font-weight="bold" fill="#555" text-anchor="end" textLength="3.43" lengthAdjust="spacingAndGlyphs">5</text>
<text x="430.20" y="155.14" font-size="6.5" font-weight="bold" fill="#555" text-anchor="end" textLength="6.87" lengthAdjust="spacingAndGlyphs">10</text>
<text x="430.20" y="139.96" font-size="6.5" font-weight="bold" fill="#555" text-anchor="end" textLength="6.87" lengthAdjust="spacingAndGlyphs">15</text>
<text x="430.20" y="124.78" font-size="6.5" font-weight="bold" fill="#555" text-anchor="end" textLength="6.87" lengthAdjust="spacingAndGlyphs">20</text>
<text x="430.20" y="109.60" font-size="6.5" font-weight="bold" fill="#555" text-anchor="end" textLength="6.87" lengthAdjust="spacingAndGlyphs">25</text>
<text x="0.00" y="0.00" font-size="5.9" font-weight="bold" fill="#606060" text-anchor="end" textLength="33.60" lengthAdjust="spacingAndGlyphs" transform="translate(436.30,188.80) rotate(-49)">02/01/2019</text>
<text x="0.00" y="0.00" font-size="5.9" font-weight="bold" fill="#606060" text-anchor="end" textLength="33.60" lengthAdjust="spacingAndGlyphs" transform="translate(447.80,188.80) rotate(-49)">03/01/2019</text>
<text x="0.00" y="0.00" font-size="5.9" font-weight="bold" fill="#606060" text-anchor="end" textLength="33.60" lengthAdjust="spacingAndGlyphs" transform="translate(459.30,188.80) rotate(-49)">04/01/2019</text>
<text x="0.00" y="0.00" font-size="5.9" font-weight="bold" fill="#606060" text-anchor="end" textLength="33.60" lengthAdjust="spacingAndGlyphs" transform="translate(470.80,188.80) rotate(-49)">05/01/2019</text>
<text x="0.00" y="0.00" font-size="5.9" font-weight="bold" fill="#606060" text-anchor="end" textLength="33.60" lengthAdjust="spacingAndGlyphs" transform="translate(482.30,188.80) rotate(-49)">06/01/2019</text>
<text x="0.00" y="0.00" font-size="5.9" font-weight="bold" fill="#606060" text-anchor="end" textLength="33.60" lengthAdjust="spacingAndGlyphs" transform="translate(493.80,188.80) rotate(-49)">07/01/2019</text>
<text x="0.00" y="0.00" font-size="5.9" font-weight="bold" fill="#606060" text-anchor="end" textLength="33.60" lengthAdjust="spacingAndGlyphs" transform="translate(505.30,188.80) rotate(-49)">08/01/2019</text>
<text x="0.00" y="0.00" font-size="5.9" font-weight="bold" fill="#606060" text-anchor="end" textLength="33.60" lengthAdjust="spacingAndGlyphs" transform="translate(516.80,188.80) rotate(-49)">09/01/2019</text>
<text x="0.00" y="0.00" font-size="5.9" font-weight="bold" fill="#606060" text-anchor="end" textLength="33.60" lengthAdjust="spacingAndGlyphs" transform="translate(528.30,188.80) rotate(-49)">10/01/2019</text>
<text x="0.00" y="0.00" font-size="5.9" font-weight="bold" fill="#606060" text-anchor="end" textLength="33.60" lengthAdjust="spacingAndGlyphs" transform="translate(539.80,188.80) rotate(-49)">11/01/2019</text>
<text x="0.00" y="0.00" font-size="5.9" font-weight="bold" fill="#606060" text-anchor="end" textLength="33.60" lengthAdjust="spacingAndGlyphs" transform="translate(551.30,188.80) rotate(-49)">12/01/2019</text>
<text x="0.00" y="0.00" font-size="5.9" font-weight="bold" fill="#606060" text-anchor="end" textLength="33.60" lengthAdjust="spacingAndGlyphs" transform="translate(562.80,188.80) rotate(-49)">01/01/2020</text>
<text x="0.00" y="0.00" font-size="5.9" font-weight="bold" fill="#606060" text-anchor="end" textLength="33.60" lengthAdjust="spacingAndGlyphs" transform="translate(574.30,188.80) rotate(-49)">02/01/2020</text>
<text x="0.00" y="0.00" font-size="5.9" font-weight="bold" fill="#606060" text-anchor="end" textLength="33.60" lengthAdjust="spacingAndGlyphs" transform="translate(585.80,188.80) rotate(-49)">03/01/2020</text>
<text x="0.00" y="0.00" font-size="5.9" font-weight="bold" fill="#606060" text-anchor="end" textLength="33.60" lengthAdjust="spacingAndGlyphs" transform="translate(597.30,188.80) rotate(-49)">04/01/2020</text>
<text x="0.00" y="0.00" font-size="5.9" font-weight="bold" fill="#606060" text-anchor="end" textLength="33.60" lengthAdjust="spacingAndGlyphs" transform="translate(608.80,188.80) rotate(-49)">05/01/2020</text>
<text x="0.00" y="0.00" font-size="5.9" font-weight="bold" fill="#606060" text-anchor="end" textLength="33.60" lengthAdjust="spacingAndGlyphs" transform="translate(620.30,188.80) rotate(-49)">06/01/2020</text>
<text x="0.00" y="0.00" font-size="5.9" font-weight="bold" fill="#606060" text-anchor="end" textLength="33.60" lengthAdjust="spacingAndGlyphs" transform="translate(631.80,188.80) rotate(-49)">07/01/2020</text>
<text x="0.00" y="0.00" font-size="5.9" font-weight="bold" fill="#606060" text-anchor="end" textLength="33.60" lengthAdjust="spacingAndGlyphs" transform="translate(643.30,188.80) rotate(-49)">08/01/2020</text>
<text x="0.00" y="0.00" font-size="5.9" font-weight="bold" fill="#606060" text-anchor="end" textLength="33.60" lengthAdjust="spacingAndGlyphs" transform="translate(654.80,188.80) rotate(-49)">09/01/2020</text>
<text x="668.80" y="114.50" font-size="4.8" font-weight="bold" fill="#565656" textLength="9.94" lengthAdjust="spacingAndGlyphs" stroke="#565656" stroke-width="0.12">Risk</text>
<text x="42.70" y="429.40" font-size="5" font-weight="bold" fill="#fff" text-anchor="middle" textLength="5.01" lengthAdjust="spacingAndGlyphs">12</text>
</svg>
<div class="abs" style="left:703.5px;top:73.3px;width:8.5px;height:394px;background:#f1f1f1"></div>
<div class="abs" style="left:704.9px;top:82.5px;width:6.1px;height:222px;background:#bdbdbd"></div>
<svg class="abs" style="left:705.6px;top:77.2px" width="5" height="3" viewBox="0 0 5 3"><path d="M0 3 L2.500 0 L5 3Z" fill="#505050"/></svg>
<svg class="abs" style="left:705.6px;top:461px" width="5" height="3" viewBox="0 0 5 3"><path d="M0 0 L2.500 3 L5 0Z" fill="#505050"/></svg>
</body></html>
